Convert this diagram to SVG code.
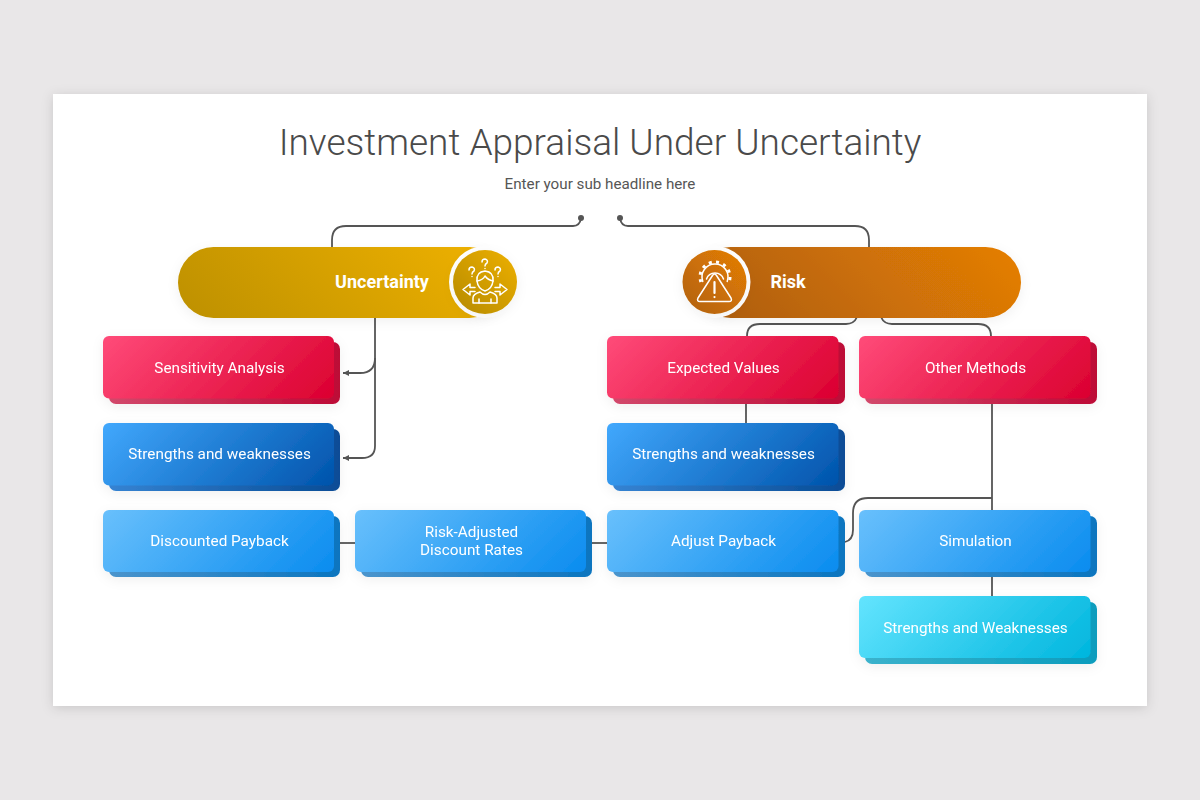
<svg xmlns="http://www.w3.org/2000/svg" width="1200" height="800" viewBox="0 0 1200 800">
<style>
text{font-family:Roboto,"Liberation Sans",sans-serif;text-anchor:middle}
.t{font-size:15.3px;fill:#fff}
.p{font-size:18px;font-weight:700;fill:#fff}
.c{fill:none;stroke:#555;stroke-width:1.8}
.i{fill:none;stroke:#fff;stroke-width:1.5;stroke-linecap:round;stroke-linejoin:round}
.red{fill:url(#red)}.dblue{fill:url(#dblue)}.lblue{fill:url(#lblue)}.cyan{fill:url(#cyan)}
.bred{fill:url(#bred)}.bdblue{fill:url(#bdblue)}.blblue{fill:url(#blblue)}.bcyan{fill:url(#bcyan)}
</style>
<defs>
<linearGradient id="red" x1="0" y1="0" x2="1.18" y2=".32"><stop offset="0" stop-color="#ff4b79"/><stop offset="1" stop-color="#db0030"/></linearGradient>
<linearGradient id="dblue" x1="0" y1="0" x2="1.18" y2=".32"><stop offset="0" stop-color="#41a8fd"/><stop offset="1" stop-color="#0053ab"/></linearGradient>
<linearGradient id="lblue" x1="0" y1="0" x2="1.18" y2=".32"><stop offset="0" stop-color="#69c0fc"/><stop offset="1" stop-color="#0a8cef"/></linearGradient>
<linearGradient id="cyan" x1="0" y1="0" x2="1.18" y2=".32"><stop offset="0" stop-color="#63e4fe"/><stop offset="1" stop-color="#00b6de"/></linearGradient>
<linearGradient id="bred"><stop offset="0" stop-color="#d2486b"/><stop offset="1" stop-color="#bd0a36"/></linearGradient>
<linearGradient id="bdblue"><stop offset="0" stop-color="#3583d2"/><stop offset="1" stop-color="#084c96"/></linearGradient>
<linearGradient id="blblue"><stop offset="0" stop-color="#4a94cc"/><stop offset="1" stop-color="#0b75bf"/></linearGradient>
<linearGradient id="bcyan"><stop offset="0" stop-color="#3bb2cc"/><stop offset="1" stop-color="#0a9cbd"/></linearGradient>
<linearGradient id="gold" x1="0" y1="1" x2="1.16" y2=".75"><stop offset="0" stop-color="#bd9006"/><stop offset="1" stop-color="#f0b200"/></linearGradient>
<linearGradient id="orange" x1="0" y1="1" x2="1.16" y2=".75"><stop offset="0" stop-color="#ab5c0a"/><stop offset="1" stop-color="#e67f05"/></linearGradient>
<linearGradient id="goldc" x1="0" y1="1" x2="1" y2="0"><stop offset="0" stop-color="#b58a06"/><stop offset="1" stop-color="#eeb000"/></linearGradient>
<linearGradient id="orangec" x1="0" y1="1" x2="1" y2="0"><stop offset="0" stop-color="#b0600a"/><stop offset="1" stop-color="#e67f05"/></linearGradient>
<filter id="soft" x="-20%" y="-30%" width="140%" height="160%"><feDropShadow dx="0" dy="3" stdDeviation="6" flood-color="#000" flood-opacity=".06"/></filter>
<filter id="panel" x="-5%" y="-5%" width="110%" height="110%"><feDropShadow dx="0" dy="2" stdDeviation="6" flood-color="#000" flood-opacity=".14"/></filter>
<marker id="arr" markerWidth="7" markerHeight="7" refX="6" refY="3" orient="auto" markerUnits="userSpaceOnUse"><path d="M0,0 L6,3 L0,6 Z" fill="#555"/></marker>
</defs>
<rect width="1200" height="800" fill="#e9e7e8"/>
<rect x="53" y="94" width="1094" height="612" fill="#fff" filter="url(#panel)"/>
<text x="600" y="155" font-size="37" font-weight="300" fill="#4a4a4a">Investment Appraisal Under Uncertainty</text>
<text x="600" y="188.500" font-size="15.200" fill="#565656">Enter your sub headline here</text>

<g id="connectors">
<circle cx="581" cy="218" r="3" fill="#555"/>
<circle cx="620" cy="218" r="3" fill="#555"/>
<path class="c" d="M581,218 Q580,226 573,226 H346 Q332,226 332,240 V247"/>
<path class="c" d="M620,218 Q621,226 628,226 H855 Q869,226 869,240 V247"/>
<path class="c" d="M375,318 V446 Q375,458 362,458 H343" marker-end="url(#arr)"/>
<path class="c" d="M375,358 Q375,373 360,373 H343" marker-end="url(#arr)"/>
<path class="c" d="M857,317 Q854,324 846,324 H760 Q747,324 747,336"/>
<path class="c" d="M881,317 Q884,324 892,324 H978 Q991,324 991,336"/>
<path class="c" d="M746,404 V423"/>
<path class="c" d="M992,404 V510"/>
<path class="c" d="M992,498 H868 Q853,498 853,513 V530 Q853,540 845,542"/>
<path class="c" d="M992,577 V596"/>
<path class="c" d="M340,543 H355"/>
<path class="c" d="M592,543 H607"/>
</g>

<g id="uncertainty">
<rect x="178" y="247" width="327" height="71" rx="35.500" fill="url(#gold)" filter="url(#soft)"/>
<circle cx="485" cy="282" r="36" fill="#fff"/>
<circle cx="485" cy="282" r="32" fill="url(#goldc)" filter="url(#soft)"/>
<text class="p" x="382" y="288">Uncertainty</text>
<g class="i">
<path d="M477,281 Q476,272 485,271 Q494,272 493,281 Q492,289 485,291 Q478,289 477,281 Z"/>
<path d="M477,281 Q483,280 485,276 Q488,280 493,281"/>
<path d="M473,303 V298 Q473,294 480,292 Q485,297 490,292 Q497,294 497,298 V303 Z"/>
<path d="M479,303 V299 M491,303 V299"/>
<path d="M475,287.500 H470 V284 L463,289.500 L470,295 V291.500 H475"/>
<path d="M495,287.500 H500 V284 L507,289.500 L500,295 V291.500 H495"/>
<path d="M482,262 Q482,259 485,259 Q488.500,260 487,263 Q485,264 485,266 M485,268.500 V268.600"/>
<path d="M469,270 Q469,267 472,267 Q475.500,268 474,271 Q472,272 472,274 M472,276.500 V276.600"/>
<path d="M495,270 Q495,267 498,267 Q501.500,268 500,271 Q498,272 498,274 M498,276.500 V276.600"/>
</g>
</g>

<g id="risk">
<rect x="695" y="247" width="326" height="71" rx="35.500" fill="url(#orange)" filter="url(#soft)"/>
<circle cx="714.500" cy="282" r="36" fill="#fff"/>
<circle cx="714.500" cy="282" r="32" fill="url(#orangec)" filter="url(#soft)"/>
<text class="p" x="788" y="288">Risk</text>
<g class="i">
<path d="M712.500,275.500 L698,298 Q696.500,301.500 700,301.500 H729 Q732.500,301.500 731,298 L716.500,275.500 Q714.500,272.500 712.500,275.500 Z"/>
<path d="M702.800,281.400 A13,13 0 1 1 727.200,281.400"/>
<path d="M700.900,282.100 A15,15 0 1 1 729.100,282.100" stroke-linecap="butt" stroke-width="3" stroke-dasharray="3 4.400"/>
<path d="M706.500,279 A9,9 0 0 1 723.500,279"/>
<path d="M714.500,282 V293 M714.500,297 V297.100" stroke-width="2.200"/>
</g>
</g>

<g id="sensitivity-analysis" filter="url(#soft)">
<rect x="109" y="342" width="231" height="62" rx="7" class="bred"/>
<rect x="103" y="336" width="231" height="62.500" rx="6" class="red"/>
<text class="t" x="219.500" y="373">Sensitivity Analysis</text>
</g>
<g id="strengths-weaknesses-1" filter="url(#soft)">
<rect x="109" y="429" width="231" height="62" rx="7" class="bdblue"/>
<rect x="103" y="423" width="231" height="62.500" rx="6" class="dblue"/>
<text class="t" x="219.500" y="459">Strengths and weaknesses</text>
</g>
<g id="discounted-payback" filter="url(#soft)">
<rect x="109" y="516" width="231" height="61" rx="7" class="blblue"/>
<rect x="103" y="510" width="231" height="62" rx="6" class="lblue"/>
<text class="t" x="219.500" y="546">Discounted Payback</text>
</g>
<g id="risk-adjusted" filter="url(#soft)">
<rect x="361" y="516" width="231" height="61" rx="7" class="blblue"/>
<rect x="355" y="510" width="231" height="62" rx="6" class="lblue"/>
<text class="t" x="471.500" y="537">Risk-Adjusted</text>
<text class="t" x="471.500" y="555">Discount Rates</text>
</g>
<g id="expected-values" filter="url(#soft)">
<rect x="613" y="342" width="232" height="62" rx="7" class="bred"/>
<rect x="607" y="336" width="231.500" height="62.500" rx="6" class="red"/>
<text class="t" x="723.500" y="373">Expected Values</text>
</g>
<g id="strengths-weaknesses-2" filter="url(#soft)">
<rect x="613" y="429" width="232" height="62" rx="7" class="bdblue"/>
<rect x="607" y="423" width="231.500" height="62.500" rx="6" class="dblue"/>
<text class="t" x="723.500" y="459">Strengths and weaknesses</text>
</g>
<g id="adjust-payback" filter="url(#soft)">
<rect x="613" y="516" width="232" height="61" rx="7" class="blblue"/>
<rect x="607" y="510" width="231.500" height="62" rx="6" class="lblue"/>
<text class="t" x="723.500" y="546">Adjust Payback</text>
</g>
<g id="other-methods" filter="url(#soft)">
<rect x="865" y="342" width="232" height="62" rx="7" class="bred"/>
<rect x="859" y="336" width="231.500" height="62.500" rx="6" class="red"/>
<text class="t" x="975.500" y="373">Other Methods</text>
</g>
<g id="simulation" filter="url(#soft)">
<rect x="865" y="516" width="232" height="61" rx="7" class="blblue"/>
<rect x="859" y="510" width="231.500" height="62" rx="6" class="lblue"/>
<text class="t" x="975.500" y="546">Simulation</text>
</g>
<g id="strengths-weaknesses-3" filter="url(#soft)">
<rect x="865" y="602" width="232" height="62" rx="7" class="bcyan"/>
<rect x="859" y="596" width="231.500" height="62" rx="6" class="cyan"/>
<text class="t" x="975.500" y="633">Strengths and Weaknesses</text>
</g>
</svg>
